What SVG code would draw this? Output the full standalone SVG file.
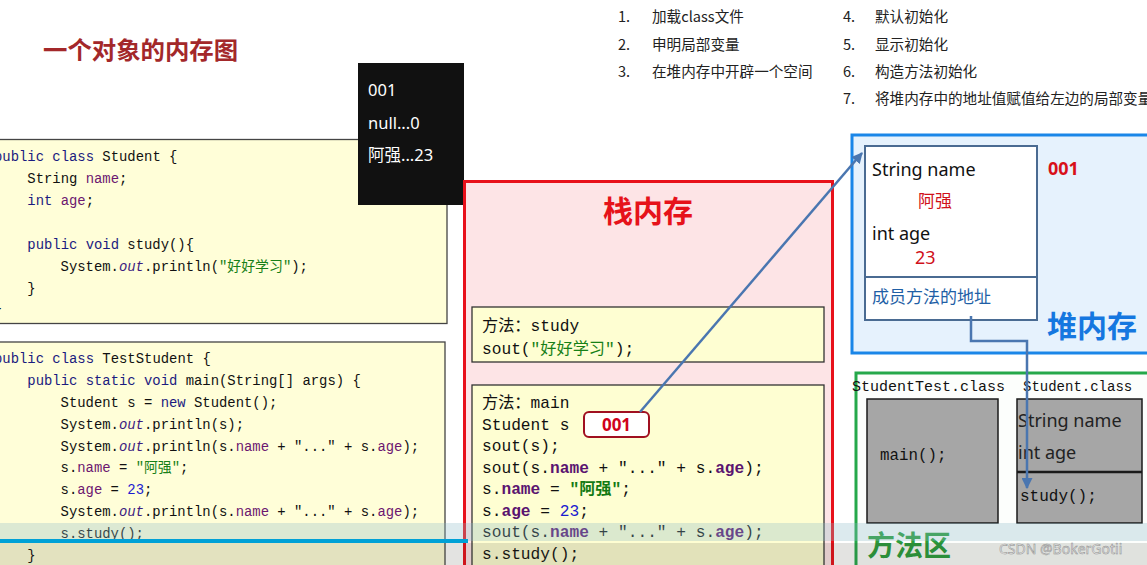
<svg xmlns="http://www.w3.org/2000/svg" width="1147" height="565" viewBox="0 0 1147 565">
<defs>
<style>
.code{font-family:"Liberation Mono","Noto Sans CJK SC",monospace;font-size:13.9px;fill:#111;white-space:pre}
.fr{font-family:"Liberation Mono","Noto Sans CJK SC",monospace;font-size:16.2px;fill:#111;white-space:pre}
.kw{fill:#1b1b80}
.fd{fill:#6c1670}
.it{font-style:italic;fill:#3c1c80}
.str{fill:#178017}
.num{fill:#1b1bd0}
.fdb{fill:#5a1470;font-weight:bold}
.strb{fill:#137a13;font-weight:bold}
.sans{font-family:"Noto Sans","Noto Sans CJK SC",sans-serif}
.cjk{font-family:"Noto Sans CJK SC","Noto Sans",sans-serif}
.step{font-family:"Noto Sans CJK SC","Noto Sans",sans-serif;font-size:14.6px;fill:#222}
.con{fill:none;stroke:#4a76b0;stroke-width:2.5}
</style>
<marker id="ah" viewBox="0 0 10 10" refX="9" refY="5" markerWidth="11" markerHeight="11" markerUnits="userSpaceOnUse" orient="auto"><path d="M0,0 L10,5 L0,10 z" fill="#4a76b0"/></marker>
</defs>
<rect width="1147" height="565" fill="#ffffff"/>

<g id="title"><text x="43" y="58.5" class="cjk" font-size="24.4" font-weight="bold" fill="#a3282a">一个对象的内存图</text></g>

<g id="steps">
<text x="618" y="22" class="step">1.</text><text x="652" y="22" class="step">加载class文件</text>
<text x="618" y="50" class="step">2.</text><text x="652" y="50" class="step">申明局部变量</text>
<text x="618" y="77" class="step">3.</text><text x="652" y="77" class="step">在堆内存中开辟一个空间</text>
<text x="843" y="22" class="step">4.</text><text x="875" y="22" class="step">默认初始化</text>
<text x="843" y="50" class="step">5.</text><text x="875" y="50" class="step">显示初始化</text>
<text x="843" y="77" class="step">6.</text><text x="875" y="77" class="step">构造方法初始化</text>
<text x="843" y="104" class="step">7.</text><text x="875" y="104" class="step">将堆内存中的地址值赋值给左边的局部变量</text>
</g>

<g id="code-student">
<rect x="-2" y="139.5" width="449" height="184" fill="#fffed8" stroke="#444" stroke-width="1.3"/>
<text x="-6" y="161" class="code"><tspan class="kw">public class</tspan> Student {</text>
<text x="27.3" y="183" class="code">String <tspan class="fd">name</tspan>;</text>
<text x="27.3" y="205" class="code"><tspan class="kw">int</tspan> <tspan class="fd">age</tspan>;</text>
<text x="27.3" y="249" class="code"><tspan class="kw">public void</tspan> study(){</text>
<text x="60.6" y="271" class="code">System.<tspan class="it">out</tspan>.println(<tspan class="str">"好好学习"</tspan>);</text>
<text x="27.3" y="293" class="code">}</text>
<text x="-6" y="313" class="code">}</text>
</g>

<g id="code-test">
<rect x="-2" y="342" width="447" height="240" fill="#fffed8" stroke="#444" stroke-width="1.3"/>
<text x="-6" y="363" class="code"><tspan class="kw">public class</tspan> TestStudent {</text>
<text x="27.3" y="385" class="code"><tspan class="kw">public static void</tspan> main(String[] args) {</text>
<text x="60.6" y="407" class="code">Student s = <tspan class="kw">new</tspan> Student();</text>
<text x="60.6" y="428.5" class="code">System.<tspan class="it">out</tspan>.println(s);</text>
<text x="60.6" y="450.5" class="code">System.<tspan class="it">out</tspan>.println(s.<tspan class="fd">name</tspan> + "..." + s.<tspan class="fd">age</tspan>);</text>
<text x="60.6" y="472" class="code">s.<tspan class="fd">name</tspan> = <tspan class="str">"阿强"</tspan>;</text>
<text x="60.6" y="494" class="code">s.<tspan class="fd">age</tspan> = <tspan class="num">23</tspan>;</text>
<text x="60.6" y="516" class="code">System.<tspan class="it">out</tspan>.println(s.<tspan class="fd">name</tspan> + "..." + s.<tspan class="fd">age</tspan>);</text>
<text x="60.6" y="537.5" class="code">s.study();</text>
<text x="27.3" y="560" class="code">}</text>
</g>

<g id="console">
<rect x="358" y="63" width="106" height="142" fill="#111111"/>
<text x="368" y="96" class="sans" font-size="16.5" fill="#ffffff">001</text>
<text x="368" y="129" class="sans" font-size="16.5" fill="#ffffff">null...0</text>
<text x="368" y="161" class="sans" font-size="16.5" fill="#ffffff">阿强...23</text>
</g>

<g id="stack">
<rect x="464.5" y="181.5" width="368" height="420" fill="#fde4e6" stroke="#e8101a" stroke-width="3"/>
<text x="648" y="222" class="cjk" font-size="30" font-weight="bold" fill="#e6121a" text-anchor="middle">栈内存</text>
</g>

<g id="frame-study">
<rect x="472" y="307" width="352" height="55" fill="#fefed2" stroke="#333" stroke-width="1.3"/>
<text x="482" y="331" class="fr">方法：study</text>
<text x="482" y="354" class="fr">sout(<tspan class="str">"好好学习"</tspan>);</text>
</g>

<g id="frame-main">
<rect x="472" y="385" width="352" height="200" fill="#fefed2" stroke="#333" stroke-width="1.3"/>
<text x="482" y="408" class="fr">方法：main</text>
<text x="482" y="429.5" class="fr">Student s</text>
<text x="482" y="451" class="fr">sout(s);</text>
<text x="482" y="472.5" class="fr">sout(s.<tspan class="fdb">name</tspan> + "..." + s.<tspan class="fdb">age</tspan>);</text>
<text x="482" y="494" class="fr">s.<tspan class="fdb">name</tspan> = <tspan class="strb">"阿强"</tspan>;</text>
<text x="482" y="515.5" class="fr">s.<tspan class="fdb">age</tspan> = <tspan class="num">23</tspan>;</text>
<text x="482" y="537" class="fr">sout(s.<tspan class="fdb">name</tspan> + "..." + s.<tspan class="fdb">age</tspan>);</text>
<text x="482" y="558.5" class="fr">s.study();</text>
</g>

<g id="ref-s">
<rect x="584" y="412" width="65" height="25" rx="5" fill="#ffffff" stroke="#a01020" stroke-width="2"/>
<text x="616.5" y="430.5" class="sans" font-size="17" font-weight="bold" fill="#d0021b" text-anchor="middle">001</text>
</g>

<g id="heap">
<rect x="852" y="135" width="310" height="218" fill="#e6f2fd" stroke="#1a86e8" stroke-width="3"/>
<text x="1048" y="175" class="sans" font-size="18" font-weight="bold" fill="#d8101a">001</text>
<text x="1047" y="337" class="cjk" font-size="30" font-weight="bold" fill="#1577e0">堆内存</text>
</g>

<g id="student-object">
<rect x="865" y="146" width="172" height="174" fill="#ffffff" stroke="#4a6b92" stroke-width="2"/>
<line x1="865" y1="277" x2="1037" y2="277" stroke="#4a6b92" stroke-width="2"/>
<text x="872" y="176" class="sans" font-size="18" fill="#111">String name</text>
<text x="918" y="207" class="cjk" font-size="17" fill="#d0101a">阿强</text>
<text x="872" y="240" class="sans" font-size="18" fill="#111">int age</text>
<text x="915" y="264" class="sans" font-size="18" fill="#d0101a">23</text>
<text x="872" y="303" class="cjk" font-size="17" fill="#1f5fa6">成员方法的地址</text>
</g>

<g id="method-area">
<rect x="856" y="373" width="300" height="210" fill="#fcfefc" stroke="#25a84a" stroke-width="3"/>
<text x="852" y="391" class="code" style="font-size:15px">StudentTest.class</text>
<text x="1023" y="391" class="code" style="font-size:14px">Student.class</text>
<text x="867" y="556" class="cjk" font-size="28" font-weight="bold" fill="#2a9d3c">方法区</text>
</g>

<g id="studenttest-class">
<rect x="867" y="399" width="131" height="124" fill="#a6a6a6" stroke="#1a1a1a" stroke-width="1.5"/>
<text x="880" y="460" class="code" style="font-size:15.8px">main();</text>
</g>

<g id="student-class">
<rect x="1017" y="399" width="125" height="124" fill="#a6a6a6" stroke="#1a1a1a" stroke-width="1.5"/>
<line x1="1017" y1="472" x2="1142" y2="472" stroke="#1a1a1a" stroke-width="2.5"/>
<text x="1018" y="427" class="sans" font-size="18" fill="#222">String name</text>
<text x="1018" y="459" class="sans" font-size="18" fill="#222">int age</text>
<text x="1020" y="501" class="code" style="font-size:16px">study();</text>
</g>

<g id="connectors">
<line x1="640" y1="412" x2="862" y2="153" class="con" marker-end="url(#ah)"/>
<path d="M971,316 V341 H1027 V488" class="con" marker-end="url(#ah)"/>
</g>

<g id="player-overlay">
<rect x="0" y="523" width="1147" height="18" fill="#8cb8c6" fill-opacity="0.3"/>
<rect x="0" y="543" width="1147" height="22" fill="#3a3a28" fill-opacity="0.14"/>
<rect x="0" y="539" width="468" height="4" fill="#00a1d6"/>
<text x="999" y="554" class="sans" font-size="14" fill="#eeeeee" stroke="#8a8a8a" stroke-width="0.5">CSDN @BokerGotii</text>
</g>
</svg>
